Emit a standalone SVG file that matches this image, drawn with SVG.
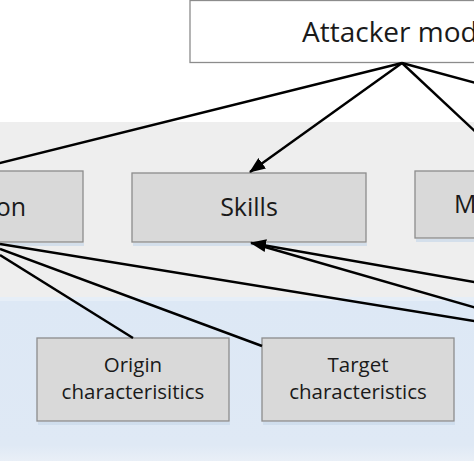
<svg xmlns="http://www.w3.org/2000/svg" width="474" height="474" viewBox="0 0 474 474">
<style>
.box{fill:#d9d9d9;stroke:#8c8c8c;stroke-width:1.3}
.top{fill:#ffffff;stroke:#8c8c8c;stroke-width:1.3}
.shadow{fill:#c9d8ea;opacity:0.7}
.t{font-family:"Open Sans","Noto Sans",sans-serif;fill:#1a1a1a}
.c{stroke:#000;stroke-width:2.4;fill:none}
</style>
<defs>
<marker id="arr" viewBox="0 0 16 13" refX="15" refY="6.5" markerWidth="16" markerHeight="13" markerUnits="userSpaceOnUse" orient="auto">
<path d="M0,0 L16,6.5 L0,13 z" fill="#000"/>
</marker>
<linearGradient id="blue" x1="0" y1="0" x2="0" y2="1">
<stop offset="0" stop-color="#dde8f5"/>
<stop offset="0.9" stop-color="#dfe9f5"/>
<stop offset="1" stop-color="#e9eff7"/>
</linearGradient>
</defs>
<rect x="0" y="0" width="474" height="474" fill="#ffffff"/>
<rect x="0" y="122" width="474" height="177" fill="#eeeeee"/>
<rect x="0" y="297" width="474" height="4" fill="#e6eef7"/>
<rect x="0" y="301" width="474" height="160" fill="url(#blue)"/>

<g id="node-attacker">
<rect class="top" x="190" y="0.5" width="300" height="62"/>
<text class="t" x="302" y="42" font-size="28">Attacker model</text>
</g>
<g id="node-left">
<rect class="shadow" x="-10" y="243" width="94" height="3"/>
<rect class="box" x="-10" y="171" width="93" height="71"/>
<text class="t" x="26" y="216" font-size="25" text-anchor="end">on</text>
</g>
<g id="node-skills">
<rect class="shadow" x="133" y="243" width="234" height="3"/>
<rect class="box" x="132" y="173" width="234" height="69"/>
<text class="t" x="249" y="216" font-size="25" text-anchor="middle">Skills</text>
</g>
<g id="node-right">
<rect class="shadow" x="416" y="239" width="60" height="3"/>
<rect class="box" x="415" y="171" width="70" height="67"/>
<text class="t" x="454" y="213" font-size="25">M</text>
</g>
<g id="node-origin">
<rect class="shadow" x="38" y="422" width="192" height="3"/>
<rect class="box" x="37" y="338" width="192" height="83"/>
<text class="t" x="133" y="372" font-size="20.5" text-anchor="middle">Origin</text>
<text class="t" x="133" y="399" font-size="20.5" text-anchor="middle">characterisitics</text>
</g>
<g id="node-target">
<rect class="shadow" x="263" y="422" width="192" height="3"/>
<rect class="box" x="262" y="338" width="192" height="83"/>
<text class="t" x="358" y="372" font-size="20.5" text-anchor="middle">Target</text>
<text class="t" x="358" y="399" font-size="20.5" text-anchor="middle">characteristics</text>
</g>

<g id="connectors">
<line class="c" x1="402" y1="63" x2="-20" y2="168"/>
<line class="c" x1="402" y1="63" x2="250" y2="172" marker-end="url(#arr)"/>
<line class="c" x1="402" y1="63" x2="480" y2="84"/>
<line class="c" x1="402" y1="63" x2="480" y2="136"/>
<line class="c" x1="0" y1="244" x2="480" y2="322"/>
<line class="c" x1="0" y1="249" x2="262" y2="346"/>
<line class="c" x1="0" y1="255" x2="133" y2="338"/>
<line class="c" x1="480" y1="283" x2="251" y2="243" marker-end="url(#arr)"/>
<line class="c" x1="480" y1="309" x2="258" y2="245"/>
</g>
</svg>
